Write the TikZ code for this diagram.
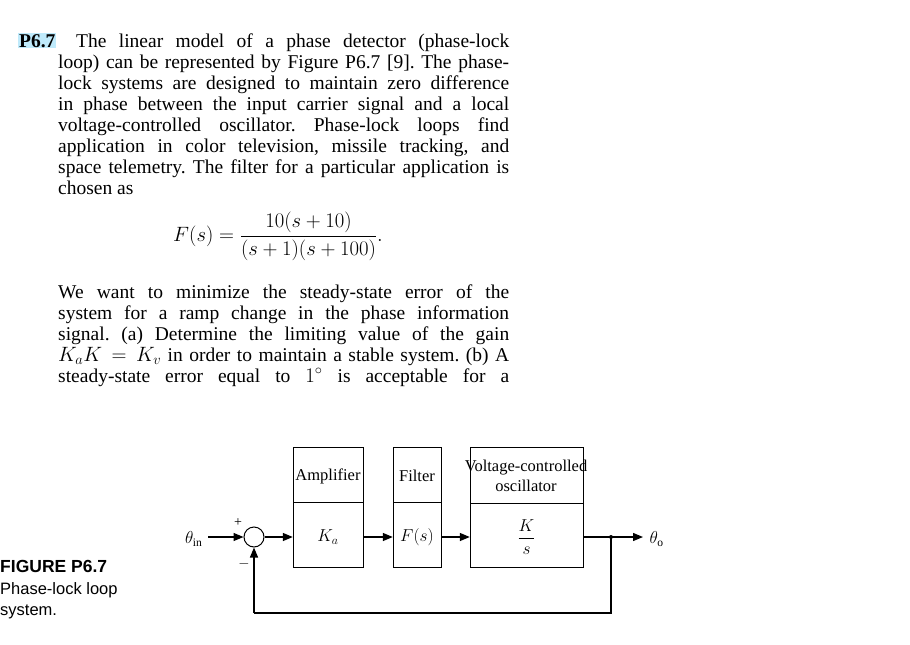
\documentclass[tikz,border=0pt]{standalone}
\usepackage{fontspec}
\setmainfont{Liberation Serif}
\newfontfamily\capfont{Liberation Sans}
\usetikzlibrary{arrows.meta}
\tikzset{
  ln/.style={anchor=base west, inner sep=0pt, font=\fontsize{19.5}{21}\selectfont},
  blk/.style={draw, line width=1pt},
  sig/.style={line width=1.3pt, -{Triangle[length=10pt,width=8pt]}},
  wire/.style={line width=1.3pt},
  lab/.style={font=\fontsize{16.5}{20}\selectfont, align=center},
}
\frenchspacing
\newcommand{\jl}[1]{\makebox[451pt][s]{#1}}
\begin{document}
\begin{tikzpicture}[x=1pt,y=-1pt]
\useasboundingbox (0,0) rectangle (910,645);
% heading
\node[anchor=base west, inner sep=1pt, fill=cyan!25, font=\fontsize{19.5}{21}\selectfont\bfseries] (p67) at (18,47) {P6.7};
\node[ln] (l1) at (76,47) {\makebox[433pt][s]{The linear model of a phase detector (phase-lock}};
\node[ln] (l2) at (58,68) {\jl{loop) can be represented by Figure P6.7 [9]. The phase-}};
\node[ln] (l3) at (58,89) {\jl{lock systems are designed to maintain zero difference}};
\node[ln] (l4) at (58,110) {\jl{in phase between the input carrier signal and a local}};
\node[ln] (l5) at (58,131) {\jl{voltage-controlled oscillator. Phase-lock loops find}};
\node[ln] (l6) at (58,152) {\jl{application in color television, missile tracking, and}};
\node[ln] (l7) at (58,173) {\jl{space telemetry. The filter for a particular application is}};
\node[ln] (l8) at (58,194) {chosen as};
\node[anchor=west, inner sep=0pt, font=\fontsize{19.5}{21}\selectfont] (eq) at (173,236)
  {$\displaystyle F(s) = \frac{10(s + 10)}{(s + 1)(s + 100)}.$};
\node[ln] (m1) at (58,298) {\jl{We want to minimize the steady-state error of the}};
\node[ln] (m2) at (58,319) {\jl{system for a ramp change in the phase information}};
\node[ln] (m3) at (58,340) {\jl{signal. (a) Determine the limiting value of the gain}};
\node[ln] (m4) at (58,361) {\jl{$K_aK = K_v$ in order to maintain a stable system. (b) A}};
\node[ln] (m5) at (58,382) {\jl{steady-state error equal to $1^\circ$ is acceptable for a}};
% caption
\node[anchor=base west, inner sep=0pt, font=\capfont\fontsize{17.5}{19}\selectfont\bfseries] (c1) at (0,572) {FIGURE P6.7};
\node[anchor=base west, inner sep=0pt, font=\capfont\fontsize{16.5}{19}\selectfont] (c2) at (0,594) {Phase-lock loop};
\node[anchor=base west, inner sep=0pt, font=\capfont\fontsize{16.5}{19}\selectfont] (c3) at (0,615) {system.};
% blocks
\draw[blk] (293,447) rectangle (363,567);
\draw[blk] (293,502) -- (363,502);
\draw[blk] (393,447) rectangle (441,567);
\draw[blk] (393,502) -- (441,502);
\draw[blk] (470,447) rectangle (583,567);
\draw[blk] (470,503) -- (583,503);
\node[lab] (amp) at (328,476) {Amplifier};
\node[lab] (fil) at (417,476) {Filter};
\node[lab] (vco) at (526,476) {Voltage-controlled\\oscillator};
\node[inner sep=0pt, minimum width=70pt, minimum height=65pt] (ka) at (328,537) {};
\node[lab] at (ka) {$K_a$};
\node[inner sep=0pt, minimum width=48pt, minimum height=64pt] (fs) at (417,537) {};
\node[lab] at (fs) {$F(s)$};
\node[inner sep=0pt, minimum width=113pt, minimum height=64pt] (ks) at (526.5,537) {};
\node[lab] at (ks) {$\displaystyle\frac{K}{s}$};
% summing junction
\node[draw, line width=1pt, circle, minimum size=20pt, inner sep=0pt] (sum) at (254,537) {};
\node[lab, anchor=east] (tin) at (206,539) {$\theta_{\mathrm{in}}$};
\node[lab, anchor=west] (tout) at (646,539) {$\theta_{\mathrm{o}}$};
\node[lab, font=\fontsize{14}{14}\selectfont] (plus) at (238,523) {+};
\node[lab, font=\fontsize{14}{14}\selectfont] (minus) at (244,564) {$-$};
\coordinate (inst) at (208,537);
\coordinate (outend) at (643,537);
\coordinate (br) at (611,537);
\coordinate (fb1) at (611,613);
\coordinate (fb2) at (254,613);
% signals
\draw[sig] (inst) -- (sum.west);
\draw[sig] (sum.east) -- (ka.west);
\draw[sig] (ka.east) -- (fs.west);
\draw[sig] (fs.east) -- (ks.west);
\draw[sig] (ks.east) -- (outend);
\fill (br) circle (2pt);
\draw[wire] (br) -- (fb1) -- (fb2);
\draw[sig] (fb2) -- (sum.south);
\end{tikzpicture}
\end{document}
